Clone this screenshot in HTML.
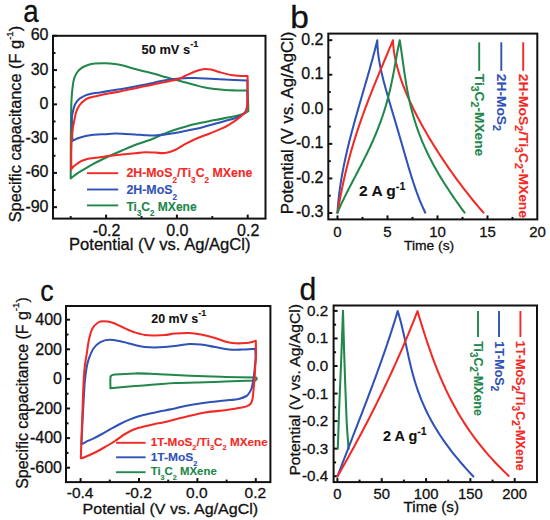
<!DOCTYPE html>
<html><head><meta charset="utf-8"><style>
html,body{margin:0;padding:0;background:#fff;width:550px;height:520px;overflow:hidden}
svg{display:block}
text{font-family:"Liberation Sans", sans-serif}
</style></head><body>
<svg width="550" height="520" viewBox="0 0 550 520" font-family='"Liberation Sans", sans-serif'>
<rect width="550" height="520" fill="#fff"/>
<rect x="53" y="35.8" width="212.5" height="182.8" fill="none" stroke="#111" stroke-width="2"/>
<line x1="106.1" y1="218.6" x2="106.1" y2="214.6" stroke="#111" stroke-width="2"/>
<line x1="176.9" y1="218.6" x2="176.9" y2="214.6" stroke="#111" stroke-width="2"/>
<line x1="247.7" y1="218.6" x2="247.7" y2="214.6" stroke="#111" stroke-width="2"/>
<line x1="70.7" y1="218.6" x2="70.7" y2="216.1" stroke="#111" stroke-width="2"/>
<line x1="141.5" y1="218.6" x2="141.5" y2="216.1" stroke="#111" stroke-width="2"/>
<line x1="212.3" y1="218.6" x2="212.3" y2="216.1" stroke="#111" stroke-width="2"/>
<line x1="53" y1="35.8" x2="57" y2="35.8" stroke="#111" stroke-width="2"/>
<line x1="53" y1="70.08" x2="57" y2="70.08" stroke="#111" stroke-width="2"/>
<line x1="53" y1="104.35" x2="57" y2="104.35" stroke="#111" stroke-width="2"/>
<line x1="53" y1="138.62" x2="57" y2="138.62" stroke="#111" stroke-width="2"/>
<line x1="53" y1="172.9" x2="57" y2="172.9" stroke="#111" stroke-width="2"/>
<line x1="53" y1="207.18" x2="57" y2="207.18" stroke="#111" stroke-width="2"/>
<line x1="53" y1="52.94" x2="55.5" y2="52.94" stroke="#111" stroke-width="2"/>
<line x1="53" y1="87.21" x2="55.5" y2="87.21" stroke="#111" stroke-width="2"/>
<line x1="53" y1="121.49" x2="55.5" y2="121.49" stroke="#111" stroke-width="2"/>
<line x1="53" y1="155.76" x2="55.5" y2="155.76" stroke="#111" stroke-width="2"/>
<line x1="53" y1="190.04" x2="55.5" y2="190.04" stroke="#111" stroke-width="2"/>
<text x="48.5" y="40.3" font-size="16" fill="#111" stroke="#111" stroke-width="0.3" text-anchor="end">60</text>
<text x="48.5" y="74.58" font-size="16" fill="#111" stroke="#111" stroke-width="0.3" text-anchor="end">30</text>
<text x="48.5" y="108.85" font-size="16" fill="#111" stroke="#111" stroke-width="0.3" text-anchor="end">0</text>
<text x="48.5" y="143.12" font-size="16" fill="#111" stroke="#111" stroke-width="0.3" text-anchor="end">-30</text>
<text x="48.5" y="177.4" font-size="16" fill="#111" stroke="#111" stroke-width="0.3" text-anchor="end">-60</text>
<text x="48.5" y="211.68" font-size="16" fill="#111" stroke="#111" stroke-width="0.3" text-anchor="end">-90</text>
<text x="106.6" y="235.8" font-size="16" fill="#111" stroke="#111" stroke-width="0.3" text-anchor="middle">-0.2</text>
<text x="177.4" y="235.8" font-size="16" fill="#111" stroke="#111" stroke-width="0.3" text-anchor="middle">0.0</text>
<text x="248.2" y="235.8" font-size="16" fill="#111" stroke="#111" stroke-width="0.3" text-anchor="middle">0.2</text>
<text x="69" y="249.5" font-size="16" fill="#111" stroke="#111" stroke-width="0.3" textLength="181.5" lengthAdjust="spacingAndGlyphs">Potential (V vs. Ag/AgCl)</text>
<text x="21.3" y="222.3" font-size="16" fill="#111" stroke="#111" stroke-width="0.3" textLength="196.5" lengthAdjust="spacingAndGlyphs" transform="rotate(-90 21.3 222.3)">Specific capacitance (F g<tspan dy="-8.5" font-size="9.5">-1</tspan><tspan dy="8.5">​</tspan>)</text>
<text x="23.2" y="21.8" font-size="32" fill="#111" stroke="#111" stroke-width="0.3" textLength="15.4" lengthAdjust="spacingAndGlyphs">a</text>
<text x="141.6" y="53.5" font-size="12.5" fill="#111" stroke="#111" stroke-width="0.1" font-weight="bold" textLength="56.8" lengthAdjust="spacingAndGlyphs">50 mV s<tspan dy="-6.3" font-size="9">-1</tspan><tspan dy="6.3">​</tspan></text>
<path d="M70.7,178.5 C70.72,173.75 70.75,159.75 70.8,150 C70.85,140.25 70.88,128.33 71,120 C71.12,111.67 71.25,105.33 71.5,100 C71.75,94.67 72.08,91.5 72.5,88 C72.92,84.5 73.25,81.58 74,79 C74.75,76.42 75.83,74.28 77,72.5 C78.17,70.72 79.17,69.55 81,68.3 C82.83,67.05 85.67,65.78 88,65 C90.33,64.22 92.17,63.9 95,63.6 C97.83,63.3 101.67,63.13 105,63.2 C108.33,63.27 111.67,63.53 115,64 C118.33,64.47 121.67,65.17 125,66 C128.33,66.83 131.67,68.08 135,69 C138.33,69.92 141.67,70.67 145,71.5 C148.33,72.33 151.67,73.08 155,74 C158.33,74.92 161.67,76.08 165,77 C168.33,77.92 171.67,78.62 175,79.5 C178.33,80.38 181.67,81.38 185,82.3 C188.33,83.22 191.67,84.13 195,85 C198.33,85.87 201.67,86.83 205,87.5 C208.33,88.17 211.67,88.58 215,89 C218.33,89.42 221.67,89.77 225,90 C228.33,90.23 231.3,90.3 235,90.4 C238.7,90.5 245.17,90.57 247.2,90.6 C247.33,92.17 247.82,96.57 248,100 C248.18,103.43 248.25,109.33 248.3,111.2 C247.58,111.63 245.55,113.12 244,113.8 C242.45,114.48 240.5,114.9 239,115.3 C237.5,115.7 236.83,115.82 235,116.2 C233.17,116.58 231.33,116.97 228,117.6 C224.67,118.23 220.5,118.93 215,120 C209.5,121.07 201.67,122.37 195,124 C188.33,125.63 180.23,128.13 175,129.8 C169.77,131.47 167.93,132.25 163.6,134 C159.27,135.75 153.77,138.47 149,140.3 C144.23,142.13 139.5,143.3 135,145 C130.5,146.7 126.17,148.7 122,150.5 C117.83,152.3 113.67,154.13 110,155.8 C106.33,157.47 103,159.03 100,160.5 C97,161.97 94.67,163.13 92,164.6 C89.33,166.07 86.5,167.78 84,169.3 C81.5,170.82 79.22,172.17 77,173.7 C74.78,175.23 71.75,177.7 70.7,178.5" fill="none" stroke="#21874b" stroke-width="2.05" stroke-linejoin="round" stroke-linecap="round"/>
<path d="M72.4,140.9 C72.33,138.25 72.07,129.07 72,125 C71.93,120.93 71.8,118.93 72,116.5 C72.2,114.07 72.68,112.45 73.2,110.4 C73.72,108.35 74.15,106.07 75.1,104.2 C76.05,102.33 77.58,100.47 78.9,99.2 C80.22,97.93 81.48,97.37 83,96.6 C84.52,95.83 86,95.2 88,94.6 C90,94 93,93.37 95,93 C97,92.63 97.5,92.77 100,92.4 C102.5,92.03 106.67,91.33 110,90.8 C113.33,90.27 116.67,89.75 120,89.2 C123.33,88.65 126.67,88.1 130,87.5 C133.33,86.9 136.67,86.27 140,85.6 C143.33,84.93 146.67,84.22 150,83.5 C153.33,82.78 156.67,81.95 160,81.3 C163.33,80.65 166.67,80.05 170,79.6 C173.33,79.15 177,78.85 180,78.6 C183,78.35 185.5,78.2 188,78.1 C190.5,78 192.17,77.95 195,78 C197.83,78.05 201.67,78.23 205,78.4 C208.33,78.57 211.67,78.8 215,79 C218.33,79.2 221.67,79.43 225,79.6 C228.33,79.77 231.27,79.87 235,80 C238.73,80.13 245.33,80.33 247.4,80.4 C247.42,82.83 247.53,90.9 247.5,95 C247.47,99.1 247.45,102.33 247.2,105 C246.95,107.67 246.2,110 246,111 C245.5,111.53 244.83,112.98 243,114.2 C241.17,115.42 238,117.17 235,118.3 C232,119.43 228.33,120.08 225,121 C221.67,121.92 218.33,122.88 215,123.8 C211.67,124.72 208.33,125.63 205,126.5 C201.67,127.37 198.33,128.25 195,129 C191.67,129.75 188.33,130.33 185,131 C181.67,131.67 178.33,132.42 175,133 C171.67,133.58 168.33,134.08 165,134.5 C161.67,134.92 158.33,135.38 155,135.5 C151.67,135.62 148.33,135.37 145,135.2 C141.67,135.03 138.33,134.7 135,134.5 C131.67,134.3 128.33,134.15 125,134 C121.67,133.85 118.33,133.57 115,133.6 C111.67,133.63 107.83,134.05 105,134.2 C102.17,134.35 100.5,134.32 98,134.5 C95.5,134.68 92.37,134.97 90,135.3 C87.63,135.63 85.8,136 83.8,136.5 C81.8,137 79.55,137.75 78,138.3 C76.45,138.85 75.43,139.37 74.5,139.8 C73.57,140.23 72.75,140.72 72.4,140.9" fill="none" stroke="#2f52b6" stroke-width="2.05" stroke-linejoin="round" stroke-linecap="round"/>
<path d="M71.3,169.3 C71.3,166.08 71.18,155.72 71.3,150 C71.42,144.28 71.75,138.53 72,135 C72.25,131.47 72.42,131.23 72.8,128.8 C73.18,126.37 73.73,123.22 74.3,120.4 C74.87,117.58 75.3,114.47 76.2,111.9 C77.1,109.33 78.22,107 79.7,105 C81.18,103 83.38,101.13 85.1,99.9 C86.82,98.67 87.52,98.38 90,97.6 C92.48,96.82 96.67,95.93 100,95.2 C103.33,94.47 106.67,93.83 110,93.2 C113.33,92.57 116.67,92.05 120,91.4 C123.33,90.75 126.67,90 130,89.3 C133.33,88.6 136.67,87.88 140,87.2 C143.33,86.52 146.67,85.9 150,85.2 C153.33,84.5 156.67,83.7 160,83 C163.33,82.3 167,81.63 170,81 C173,80.37 175.5,80.03 178,79.2 C180.5,78.37 182.17,77.28 185,76 C187.83,74.72 192,72.63 195,71.5 C198,70.37 200.33,69.52 203,69.2 C205.67,68.88 208.33,69.13 211,69.6 C213.67,70.07 215.67,71.1 219,72 C222.33,72.9 227,74.33 231,75 C235,75.67 240.23,75.83 243,76 C245.77,76.17 246.83,76 247.6,76 C247.6,79.17 247.67,89.67 247.6,95 C247.53,100.33 247.27,105.83 247.2,108 C246.97,108.6 246.5,110.5 245.8,111.6 C245.1,112.7 244.3,113.43 243,114.6 C241.7,115.77 239.67,117.33 238,118.6 C236.33,119.87 234.67,121.08 233,122.2 C231.33,123.32 229.83,124.27 228,125.3 C226.17,126.33 224.17,127.38 222,128.4 C219.83,129.42 217.83,130.25 215,131.4 C212.17,132.55 208.33,134 205,135.3 C201.67,136.6 198.33,137.72 195,139.2 C191.67,140.68 188.33,142.4 185,144.2 C181.67,146 178.33,148.53 175,150 C171.67,151.47 168.33,152.57 165,153 C161.67,153.43 158.33,152.72 155,152.6 C151.67,152.48 148.33,152.18 145,152.3 C141.67,152.42 138.83,152.92 135,153.3 C131.17,153.68 126.17,154.18 122,154.6 C117.83,155.02 113.67,155.37 110,155.8 C106.33,156.23 103.45,156.73 100,157.2 C96.55,157.67 92.3,158 89.3,158.6 C86.3,159.2 83.82,160.08 82,160.8 C80.18,161.52 79.65,162.07 78.4,162.9 C77.15,163.73 75.53,164.95 74.5,165.8 C73.47,166.65 72.73,167.42 72.2,168 C71.67,168.58 71.45,169.08 71.3,169.3" fill="none" stroke="#f22a26" stroke-width="2.05" stroke-linejoin="round" stroke-linecap="round"/>
<line x1="87" y1="173.2" x2="118.2" y2="173.2" stroke="#f22a26" stroke-width="1.9"/>
<line x1="87" y1="189.5" x2="118.2" y2="189.5" stroke="#2f52b6" stroke-width="1.9"/>
<line x1="87" y1="205.4" x2="118.2" y2="205.4" stroke="#21874b" stroke-width="1.9"/>
<text x="126.4" y="177.3" font-size="12.4" fill="#f22a26" stroke="#f22a26" stroke-width="0.1" font-weight="bold" textLength="126" lengthAdjust="spacingAndGlyphs">2H-MoS<tspan dy="5.4" font-size="8.2">2</tspan><tspan dy="-5.4">​</tspan>/Ti<tspan dy="5.4" font-size="8.2">3</tspan><tspan dy="-5.4">​</tspan>C<tspan dy="5.4" font-size="8.2">2</tspan><tspan dy="-5.4">​</tspan> MXene</text>
<text x="126.4" y="194.3" font-size="12.4" fill="#2f52b6" stroke="#2f52b6" stroke-width="0.1" font-weight="bold">2H-MoS<tspan dy="5.4" font-size="8.2">2</tspan><tspan dy="-5.4">​</tspan></text>
<text x="126.4" y="210.8" font-size="12.4" fill="#21874b" stroke="#21874b" stroke-width="0.1" font-weight="bold" textLength="70.3" lengthAdjust="spacingAndGlyphs">Ti<tspan dy="5.4" font-size="8.2">3</tspan><tspan dy="-5.4">​</tspan>C<tspan dy="5.4" font-size="8.2">2</tspan><tspan dy="-5.4">​</tspan> MXene</text>
<rect x="328.3" y="33.6" width="209" height="185.8" fill="none" stroke="#111" stroke-width="2"/>
<line x1="337.5" y1="219.4" x2="337.5" y2="215.4" stroke="#111" stroke-width="2"/>
<line x1="387.5" y1="219.4" x2="387.5" y2="215.4" stroke="#111" stroke-width="2"/>
<line x1="437.5" y1="219.4" x2="437.5" y2="215.4" stroke="#111" stroke-width="2"/>
<line x1="487.5" y1="219.4" x2="487.5" y2="215.4" stroke="#111" stroke-width="2"/>
<line x1="362.5" y1="219.4" x2="362.5" y2="216.9" stroke="#111" stroke-width="2"/>
<line x1="412.5" y1="219.4" x2="412.5" y2="216.9" stroke="#111" stroke-width="2"/>
<line x1="462.5" y1="219.4" x2="462.5" y2="216.9" stroke="#111" stroke-width="2"/>
<line x1="512.5" y1="219.4" x2="512.5" y2="216.9" stroke="#111" stroke-width="2"/>
<line x1="328.3" y1="40.18" x2="332.3" y2="40.18" stroke="#111" stroke-width="2"/>
<line x1="328.3" y1="74.74" x2="332.3" y2="74.74" stroke="#111" stroke-width="2"/>
<line x1="328.3" y1="109.3" x2="332.3" y2="109.3" stroke="#111" stroke-width="2"/>
<line x1="328.3" y1="143.86" x2="332.3" y2="143.86" stroke="#111" stroke-width="2"/>
<line x1="328.3" y1="178.42" x2="332.3" y2="178.42" stroke="#111" stroke-width="2"/>
<line x1="328.3" y1="212.98" x2="332.3" y2="212.98" stroke="#111" stroke-width="2"/>
<line x1="328.3" y1="57.46" x2="330.8" y2="57.46" stroke="#111" stroke-width="2"/>
<line x1="328.3" y1="92.02" x2="330.8" y2="92.02" stroke="#111" stroke-width="2"/>
<line x1="328.3" y1="126.58" x2="330.8" y2="126.58" stroke="#111" stroke-width="2"/>
<line x1="328.3" y1="161.14" x2="330.8" y2="161.14" stroke="#111" stroke-width="2"/>
<line x1="328.3" y1="195.7" x2="330.8" y2="195.7" stroke="#111" stroke-width="2"/>
<text x="323.5" y="44.68" font-size="16" fill="#111" stroke="#111" stroke-width="0.3" text-anchor="end">0.2</text>
<text x="323.5" y="79.24" font-size="16" fill="#111" stroke="#111" stroke-width="0.3" text-anchor="end">0.1</text>
<text x="323.5" y="113.8" font-size="16" fill="#111" stroke="#111" stroke-width="0.3" text-anchor="end">0.0</text>
<text x="323.5" y="148.36" font-size="16" fill="#111" stroke="#111" stroke-width="0.3" text-anchor="end">-0.1</text>
<text x="323.5" y="182.92" font-size="16" fill="#111" stroke="#111" stroke-width="0.3" text-anchor="end">-0.2</text>
<text x="323.5" y="217.48" font-size="16" fill="#111" stroke="#111" stroke-width="0.3" text-anchor="end">-0.3</text>
<text x="337.5" y="237" font-size="15" fill="#111" stroke="#111" stroke-width="0.3" text-anchor="middle">0</text>
<text x="387.5" y="237" font-size="15" fill="#111" stroke="#111" stroke-width="0.3" text-anchor="middle">5</text>
<text x="437.5" y="237" font-size="15" fill="#111" stroke="#111" stroke-width="0.3" text-anchor="middle">10</text>
<text x="487.5" y="237" font-size="15" fill="#111" stroke="#111" stroke-width="0.3" text-anchor="middle">15</text>
<text x="537.5" y="237" font-size="15" fill="#111" stroke="#111" stroke-width="0.3" text-anchor="middle">20</text>
<text x="404" y="249.5" font-size="13.6" fill="#111" stroke="#111" stroke-width="0.3" textLength="50.2" lengthAdjust="spacingAndGlyphs">Time (s)</text>
<text x="292.6" y="214.2" font-size="16" fill="#111" stroke="#111" stroke-width="0.3" textLength="182.5" lengthAdjust="spacingAndGlyphs" transform="rotate(-90 292.6 214.2)">Potential (V vs. Ag/AgCl)</text>
<text x="290.3" y="27.7" font-size="32" fill="#111" stroke="#111" stroke-width="0.3" textLength="18.6" lengthAdjust="spacingAndGlyphs">b</text>
<text x="359" y="195.5" font-size="14.5" fill="#111" stroke="#111" stroke-width="0.1" font-weight="bold" textLength="46.4" lengthAdjust="spacingAndGlyphs">2 A g<tspan dy="-5.6" font-size="10">-1</tspan><tspan dy="5.6">​</tspan></text>
<path d="M337.5,212.7 L337.68,209.78 L337.9,206.85 L338.14,203.93 L338.42,201.01 L338.72,198.08 L339.05,195.16 L339.41,192.23 L339.8,189.31 L340.21,186.39 L340.65,183.46 L341.11,180.54 L341.6,177.62 L342.11,174.69 L342.64,171.77 L343.2,168.84 L343.77,165.92 L344.37,163 L344.99,160.07 L345.62,157.15 L346.28,154.23 L346.95,151.3 L347.64,148.38 L348.35,145.45 L349.07,142.53 L349.8,139.61 L350.55,136.68 L351.31,133.76 L352.09,130.84 L352.87,127.91 L353.67,124.99 L354.47,122.06 L355.28,119.14 L356.11,116.22 L356.93,113.29 L357.77,110.37 L358.61,107.45 L359.45,104.52 L360.3,101.6 L361.15,98.67 L362,95.75 L362.86,92.83 L363.71,89.9 L364.56,86.98 L365.41,84.06 L366.26,81.13 L367.11,78.21 L367.95,75.28 L368.78,72.36 L369.61,69.44 L370.43,66.51 L371.24,63.59 L372.04,60.67 L372.83,57.74 L373.61,54.82 L374.38,51.89 L375.13,48.97 L375.87,46.05 L376.59,43.12 L377.3,40.2 L377.35,43.12 L377.48,46.05 L377.69,48.97 L377.97,51.89 L378.32,54.82 L378.72,57.74 L379.19,60.67 L379.71,63.59 L380.27,66.51 L380.88,69.44 L381.53,72.36 L382.21,75.28 L382.92,78.21 L383.66,81.13 L384.43,84.06 L385.22,86.98 L386.02,89.9 L386.84,92.83 L387.68,95.75 L388.52,98.67 L389.38,101.6 L390.24,104.52 L391.1,107.45 L391.97,110.37 L392.84,113.29 L393.71,116.22 L394.58,119.14 L395.45,122.06 L396.31,124.99 L397.17,127.91 L398.03,130.84 L398.88,133.76 L399.74,136.68 L400.59,139.61 L401.43,142.53 L402.27,145.45 L403.12,148.38 L403.96,151.3 L404.8,154.23 L405.65,157.15 L406.49,160.07 L407.35,163 L408.21,165.92 L409.08,168.84 L409.96,171.77 L410.86,174.69 L411.77,177.62 L412.71,180.54 L413.67,183.46 L414.65,186.39 L415.66,189.31 L416.71,192.23 L417.79,195.16 L418.91,198.08 L420.08,201.01 L421.3,203.93 L422.57,206.85 L423.9,209.78 L425.3,212.7" fill="none" stroke="#2f52b6" stroke-width="2.05" stroke-linejoin="round" stroke-linecap="round"/>
<path d="M337.5,212.7 L338,209.78 L338.51,206.85 L339.04,203.93 L339.57,201.01 L340.12,198.08 L340.69,195.16 L341.26,192.23 L341.86,189.31 L342.47,186.39 L343.09,183.46 L343.73,180.54 L344.39,177.62 L345.06,174.69 L345.76,171.77 L346.47,168.84 L347.19,165.92 L347.94,163 L348.71,160.07 L349.49,157.15 L350.29,154.23 L351.11,151.3 L351.95,148.38 L352.81,145.45 L353.68,142.53 L354.58,139.61 L355.49,136.68 L356.42,133.76 L357.37,130.84 L358.34,127.91 L359.32,124.99 L360.33,122.06 L361.35,119.14 L362.38,116.22 L363.43,113.29 L364.5,110.37 L365.58,107.45 L366.68,104.52 L367.79,101.6 L368.92,98.67 L370.05,95.75 L371.2,92.83 L372.36,89.9 L373.54,86.98 L374.72,84.06 L375.91,81.13 L377.11,78.21 L378.31,75.28 L379.53,72.36 L380.75,69.44 L381.97,66.51 L383.2,63.59 L384.43,60.67 L385.66,57.74 L386.89,54.82 L388.12,51.89 L389.34,48.97 L390.57,46.05 L391.79,43.12 L393,40.2 L393.07,43.12 L393.32,46.05 L393.65,48.97 L394.05,51.89 L394.52,54.82 L395.06,57.74 L395.67,60.67 L396.34,63.59 L397.08,66.51 L397.87,69.44 L398.72,72.36 L399.63,75.28 L400.59,78.21 L401.6,81.13 L402.66,84.06 L403.77,86.98 L404.92,89.9 L406.12,92.83 L407.36,95.75 L408.65,98.67 L409.97,101.6 L411.33,104.52 L412.73,107.45 L414.16,110.37 L415.63,113.29 L417.14,116.22 L418.68,119.14 L420.24,122.06 L421.84,124.99 L423.48,127.91 L425.14,130.84 L426.83,133.76 L428.54,136.68 L430.29,139.61 L432.07,142.53 L433.87,145.45 L435.7,148.38 L437.56,151.3 L439.44,154.23 L441.36,157.15 L443.3,160.07 L445.27,163 L447.26,165.92 L449.29,168.84 L451.34,171.77 L453.42,174.69 L455.53,177.62 L457.68,180.54 L459.85,183.46 L462.05,186.39 L464.29,189.31 L466.56,192.23 L468.87,195.16 L471.21,198.08 L473.59,201.01 L476.01,203.93 L478.46,206.85 L480.96,209.78 L483.5,212.7" fill="none" stroke="#f22a26" stroke-width="2.05" stroke-linejoin="round" stroke-linecap="round"/>
<path d="M337.5,212.7 L338.73,209.78 L340.01,206.85 L341.34,203.93 L342.72,201.01 L344.13,198.08 L345.57,195.16 L347.03,192.23 L348.52,189.31 L350.03,186.39 L351.55,183.46 L353.08,180.54 L354.61,177.62 L356.14,174.69 L357.67,171.77 L359.19,168.84 L360.7,165.92 L362.19,163 L363.68,160.07 L365.14,157.15 L366.58,154.23 L367.99,151.3 L369.38,148.38 L370.75,145.45 L372.08,142.53 L373.38,139.61 L374.65,136.68 L375.88,133.76 L377.08,130.84 L378.24,127.91 L379.36,124.99 L380.45,122.06 L381.5,119.14 L382.51,116.22 L383.49,113.29 L384.42,110.37 L385.32,107.45 L386.19,104.52 L387.01,101.6 L387.81,98.67 L388.57,95.75 L389.3,92.83 L390,89.9 L390.67,86.98 L391.31,84.06 L391.93,81.13 L392.53,78.21 L393.1,75.28 L393.66,72.36 L394.21,69.44 L394.75,66.51 L395.28,63.59 L395.8,60.67 L396.33,57.74 L396.85,54.82 L397.39,51.89 L397.94,48.97 L398.5,46.05 L399.09,43.12 L399.7,40.2 L400.18,43.12 L400.64,46.05 L401.08,48.97 L401.51,51.89 L401.92,54.82 L402.33,57.74 L402.74,60.67 L403.14,63.59 L403.55,66.51 L403.96,69.44 L404.39,72.36 L404.82,75.28 L405.27,78.21 L405.73,81.13 L406.21,84.06 L406.72,86.98 L407.24,89.9 L407.8,92.83 L408.38,95.75 L408.99,98.67 L409.63,101.6 L410.31,104.52 L411.02,107.45 L411.76,110.37 L412.55,113.29 L413.37,116.22 L414.23,119.14 L415.14,122.06 L416.08,124.99 L417.07,127.91 L418.11,130.84 L419.18,133.76 L420.31,136.68 L421.48,139.61 L422.69,142.53 L423.95,145.45 L425.26,148.38 L426.61,151.3 L428.01,154.23 L429.45,157.15 L430.94,160.07 L432.48,163 L434.06,165.92 L435.68,168.84 L437.35,171.77 L439.06,174.69 L440.81,177.62 L442.61,180.54 L444.44,183.46 L446.31,186.39 L448.22,189.31 L450.16,192.23 L452.14,195.16 L454.14,198.08 L456.18,201.01 L458.25,203.93 L460.34,206.85 L462.46,209.78 L464.6,212.7" fill="none" stroke="#21874b" stroke-width="2.05" stroke-linejoin="round" stroke-linecap="round"/>
<line x1="479.2" y1="42.3" x2="479.2" y2="70.8" stroke="#21874b" stroke-width="1.9"/>
<line x1="501.3" y1="42.3" x2="501.3" y2="70.8" stroke="#2f52b6" stroke-width="1.9"/>
<line x1="523.2" y1="42.3" x2="523.2" y2="70.8" stroke="#f22a26" stroke-width="1.9"/>
<text x="518.8" y="73.8" font-size="13.6" fill="#f22a26" stroke="#f22a26" stroke-width="0.1" font-weight="bold" textLength="144.2" lengthAdjust="spacingAndGlyphs" transform="rotate(90 518.8 73.8)">2H-MoS<tspan dy="3.8" font-size="10.5">2</tspan><tspan dy="-3.8">​</tspan>/Ti<tspan dy="3.8" font-size="10.5">3</tspan><tspan dy="-3.8">​</tspan>C<tspan dy="3.8" font-size="10.5">2</tspan><tspan dy="-3.8">​</tspan>-MXene</text>
<text x="497.2" y="73.8" font-size="13.6" fill="#2f52b6" stroke="#2f52b6" stroke-width="0.1" font-weight="bold" textLength="57.2" lengthAdjust="spacingAndGlyphs" transform="rotate(90 497.2 73.8)">2H-MoS<tspan dy="3.8" font-size="10.5">2</tspan><tspan dy="-3.8">​</tspan></text>
<text x="474.8" y="73.8" font-size="13.6" fill="#21874b" stroke="#21874b" stroke-width="0.1" font-weight="bold" textLength="82.4" lengthAdjust="spacingAndGlyphs" transform="rotate(90 474.8 73.8)">Ti<tspan dy="3.8" font-size="10.5">3</tspan><tspan dy="-3.8">​</tspan>C<tspan dy="3.8" font-size="10.5">2</tspan><tspan dy="-3.8">​</tspan>-MXene</text>
<rect x="66" y="306" width="204.4" height="176.1" fill="none" stroke="#111" stroke-width="2"/>
<line x1="80.6" y1="482.1" x2="80.6" y2="478.1" stroke="#111" stroke-width="2"/>
<line x1="139" y1="482.1" x2="139" y2="478.1" stroke="#111" stroke-width="2"/>
<line x1="197.4" y1="482.1" x2="197.4" y2="478.1" stroke="#111" stroke-width="2"/>
<line x1="255.8" y1="482.1" x2="255.8" y2="478.1" stroke="#111" stroke-width="2"/>
<line x1="109.8" y1="482.1" x2="109.8" y2="479.6" stroke="#111" stroke-width="2"/>
<line x1="168.2" y1="482.1" x2="168.2" y2="479.6" stroke="#111" stroke-width="2"/>
<line x1="226.6" y1="482.1" x2="226.6" y2="479.6" stroke="#111" stroke-width="2"/>
<line x1="66" y1="319.7" x2="70" y2="319.7" stroke="#111" stroke-width="2"/>
<line x1="66" y1="349.3" x2="70" y2="349.3" stroke="#111" stroke-width="2"/>
<line x1="66" y1="378.9" x2="70" y2="378.9" stroke="#111" stroke-width="2"/>
<line x1="66" y1="408.5" x2="70" y2="408.5" stroke="#111" stroke-width="2"/>
<line x1="66" y1="438.1" x2="70" y2="438.1" stroke="#111" stroke-width="2"/>
<line x1="66" y1="467.7" x2="70" y2="467.7" stroke="#111" stroke-width="2"/>
<line x1="66" y1="334.5" x2="68.5" y2="334.5" stroke="#111" stroke-width="2"/>
<line x1="66" y1="364.1" x2="68.5" y2="364.1" stroke="#111" stroke-width="2"/>
<line x1="66" y1="393.7" x2="68.5" y2="393.7" stroke="#111" stroke-width="2"/>
<line x1="66" y1="423.3" x2="68.5" y2="423.3" stroke="#111" stroke-width="2"/>
<line x1="66" y1="452.9" x2="68.5" y2="452.9" stroke="#111" stroke-width="2"/>
<text x="62" y="325" font-size="16" fill="#111" stroke="#111" stroke-width="0.3" text-anchor="end">400</text>
<text x="62" y="354.6" font-size="16" fill="#111" stroke="#111" stroke-width="0.3" text-anchor="end">200</text>
<text x="62" y="384.2" font-size="16" fill="#111" stroke="#111" stroke-width="0.3" text-anchor="end">0</text>
<text x="62" y="413.8" font-size="16" fill="#111" stroke="#111" stroke-width="0.3" text-anchor="end">-200</text>
<text x="62" y="443.4" font-size="16" fill="#111" stroke="#111" stroke-width="0.3" text-anchor="end">-400</text>
<text x="62" y="473" font-size="16" fill="#111" stroke="#111" stroke-width="0.3" text-anchor="end">-600</text>
<text x="80.1" y="498.2" font-size="15.5" fill="#111" stroke="#111" stroke-width="0.3" text-anchor="middle">-0.4</text>
<text x="138.5" y="498.2" font-size="15.5" fill="#111" stroke="#111" stroke-width="0.3" text-anchor="middle">-0.2</text>
<text x="196.9" y="498.2" font-size="15.5" fill="#111" stroke="#111" stroke-width="0.3" text-anchor="middle">0.0</text>
<text x="255.3" y="498.2" font-size="15.5" fill="#111" stroke="#111" stroke-width="0.3" text-anchor="middle">0.2</text>
<text x="82.6" y="513.6" font-size="15.5" fill="#111" stroke="#111" stroke-width="0.3" textLength="175.6" lengthAdjust="spacingAndGlyphs">Potential (V vs. Ag/AgCl)</text>
<text x="28" y="488.8" font-size="15.7" fill="#111" stroke="#111" stroke-width="0.3" textLength="191.5" lengthAdjust="spacingAndGlyphs" transform="rotate(-90 28 488.8)">Specific capacitance (F g<tspan dy="-9" font-size="9.5">-1</tspan><tspan dy="9">​</tspan>)</text>
<text x="40.3" y="300.9" font-size="29.5" fill="#111" stroke="#111" stroke-width="0.3" textLength="13.4" lengthAdjust="spacingAndGlyphs">c</text>
<text x="151.3" y="322.7" font-size="12.3" fill="#111" stroke="#111" stroke-width="0.1" font-weight="bold" textLength="55" lengthAdjust="spacingAndGlyphs">20 mV s<tspan dy="-6.3" font-size="9">-1</tspan><tspan dy="6.3">​</tspan></text>
<path d="M110.5,377 C110.58,376.83 110.25,376.4 111,376 C111.75,375.6 111,375.03 115,374.6 C119,374.17 128.33,373.5 135,373.4 C141.67,373.3 148.33,373.73 155,374 C161.67,374.27 166.67,374.62 175,375 C183.33,375.38 196.67,375.98 205,376.3 C213.33,376.62 216.45,376.68 225,376.9 C233.55,377.12 251.08,377.48 256.3,377.6 C256.37,377.82 256.83,378.43 256.7,378.9 C256.57,379.37 255.7,380.15 255.5,380.4 C250.42,380.6 233.42,381.3 225,381.6 C216.58,381.9 213.33,381.97 205,382.2 C196.67,382.43 183.33,382.6 175,383 C166.67,383.4 161.67,384.1 155,384.6 C148.33,385.1 142,385.43 135,386 C128,386.57 117.08,387.67 113,388 C108.92,388.33 110.92,388 110.5,388 C110.47,387 110.3,383.83 110.3,382 C110.3,380.17 110.47,377.83 110.5,377" fill="none" stroke="#21874b" stroke-width="2.05" stroke-linejoin="round" stroke-linecap="round"/>
<path d="M81.4,444.5 C81.67,439 82.5,421.08 83,411.5 C83.5,401.92 84,392.92 84.4,387 C84.8,381.08 85,379.42 85.4,376 C85.8,372.58 86.23,369.37 86.8,366.5 C87.37,363.63 87.68,361.8 88.8,358.8 C89.92,355.8 91.57,351.28 93.5,348.5 C95.43,345.72 97.72,343.55 100.4,342.1 C103.08,340.65 106.13,339.9 109.6,339.8 C113.07,339.7 118.13,340.93 121.2,341.5 C124.27,342.07 125.7,342.62 128,343.2 C130.3,343.78 132.17,344.37 135,345 C137.83,345.63 141.67,346.6 145,347 C148.33,347.4 151.67,347.4 155,347.4 C158.33,347.4 161.67,347.23 165,347 C168.33,346.77 171,346.5 175,346 C179,345.5 184.67,344.23 189,344 C193.33,343.77 196.67,344.1 201,344.6 C205.33,345.1 210.33,346.2 215,347 C219.67,347.8 224.67,348.97 229,349.4 C233.33,349.83 236.62,349.72 241,349.6 C245.38,349.48 252.92,348.85 255.3,348.7 C255.35,350.25 255.65,355.12 255.6,358 C255.55,360.88 255.27,363.17 255,366 C254.73,368.83 254.37,372.17 254,375 C253.63,377.83 253.22,380.75 252.8,383 C252.38,385.25 252.05,386.92 251.5,388.5 C250.95,390.08 250.33,391.25 249.5,392.5 C248.67,393.75 248.28,394.93 246.5,396 C244.72,397.07 242.38,398.13 238.8,398.9 C235.22,399.67 230.63,399.95 225,400.6 C219.37,401.25 211.67,401.9 205,402.8 C198.33,403.7 190,405.07 185,406 C180,406.93 178.33,407.67 175,408.4 C171.67,409.13 168.33,409.72 165,410.4 C161.67,411.08 157.88,411.88 155,412.5 C152.12,413.12 150.53,413.42 147.7,414.1 C144.87,414.78 141.03,415.68 138,416.6 C134.97,417.52 132.5,418.37 129.5,419.6 C126.5,420.83 123.02,422.5 120,424 C116.98,425.5 114.4,426.93 111.4,428.6 C108.4,430.27 105.03,432.33 102,434 C98.97,435.67 95.87,437.3 93.2,438.6 C90.53,439.9 87.97,440.82 86,441.8 C84.03,442.78 82.17,444.05 81.4,444.5" fill="none" stroke="#2f52b6" stroke-width="2.05" stroke-linejoin="round" stroke-linecap="round"/>
<path d="M80.8,458.3 C80.95,454.08 81.37,442.38 81.7,433 C82.03,423.62 82.47,410.83 82.8,402 C83.13,393.17 83.37,386 83.7,380 C84.03,374 84.33,370.1 84.8,366 C85.27,361.9 85.83,359.67 86.5,355.4 C87.17,351.13 87.83,344.83 88.8,340.4 C89.77,335.97 90.75,331.78 92.3,328.8 C93.85,325.82 96.18,323.75 98.1,322.5 C100.02,321.25 101.5,321.3 103.8,321.3 C106.1,321.3 109,321.63 111.9,322.5 C114.8,323.37 118.52,325.28 121.2,326.5 C123.88,327.72 125.7,328.82 128,329.8 C130.3,330.78 132.17,331.53 135,332.4 C137.83,333.27 141.67,334.5 145,335 C148.33,335.5 151.67,335.4 155,335.4 C158.33,335.4 161.67,335.3 165,335 C168.33,334.7 171,333.93 175,333.6 C179,333.27 184.67,332.83 189,333 C193.33,333.17 196.67,333.77 201,334.6 C205.33,335.43 211,336.85 215,338 C219,339.15 221.6,340.62 225,341.5 C228.4,342.38 231.93,343.05 235.4,343.3 C238.87,343.55 242.92,343.25 245.8,343 C248.68,342.75 251.03,342.18 252.7,341.8 C254.37,341.42 255.28,340.88 255.8,340.7 C255.83,343.25 256.08,351.95 256,356 C255.92,360.05 255.53,361.33 255.3,365 C255.07,368.67 254.9,373.83 254.6,378 C254.3,382.17 253.83,386.58 253.5,390 C253.17,393.42 253.05,396.23 252.6,398.5 C252.15,400.77 251.82,402.28 250.8,403.6 C249.78,404.92 248.3,405.7 246.5,406.4 C244.7,407.1 241.85,407.42 240,407.8 C238.15,408.18 237.9,408.3 235.4,408.7 C232.9,409.1 230.07,409.57 225,410.2 C219.93,410.83 211.67,411.37 205,412.5 C198.33,413.63 191.67,415.42 185,417 C178.33,418.58 170,420.83 165,422 C160,423.17 158.33,423.28 155,424 C151.67,424.72 148.33,425.47 145,426.3 C141.67,427.13 138.33,427.72 135,429 C131.67,430.28 128.33,432 125,434 C121.67,436 118.33,438.83 115,441 C111.67,443.17 108.33,445.08 105,447 C101.67,448.92 98.33,450.83 95,452.5 C91.67,454.17 87.37,456.03 85,457 C82.63,457.97 81.5,458.08 80.8,458.3" fill="none" stroke="#f22a26" stroke-width="2.05" stroke-linejoin="round" stroke-linecap="round"/>
<line x1="116.1" y1="442.8" x2="145.6" y2="442.8" stroke="#f22a26" stroke-width="1.9"/>
<line x1="116.1" y1="457.3" x2="145.6" y2="457.3" stroke="#2f52b6" stroke-width="1.9"/>
<line x1="116.1" y1="472.2" x2="145.6" y2="472.2" stroke="#21874b" stroke-width="1.9"/>
<text x="150.7" y="446" font-size="11.4" fill="#f22a26" stroke="#f22a26" stroke-width="0.1" font-weight="bold" textLength="117" lengthAdjust="spacingAndGlyphs">1T-MoS<tspan dy="4.3" font-size="7.2">2</tspan><tspan dy="-4.3">​</tspan>/Ti<tspan dy="4.3" font-size="7.2">3</tspan><tspan dy="-4.3">​</tspan>C<tspan dy="4.3" font-size="7.2">2</tspan><tspan dy="-4.3">​</tspan> MXene</text>
<text x="150.7" y="460.6" font-size="11.4" fill="#2f52b6" stroke="#2f52b6" stroke-width="0.1" font-weight="bold" textLength="46.8" lengthAdjust="spacingAndGlyphs">1T-MoS<tspan dy="5.8" font-size="7.2">2</tspan><tspan dy="-5.8">​</tspan></text>
<text x="150.7" y="474.6" font-size="11.4" fill="#21874b" stroke="#21874b" stroke-width="0.1" font-weight="bold">Ti<tspan dy="5.8" font-size="7.2">3</tspan><tspan dy="-5.8">​</tspan>C<tspan dy="5.8" font-size="7.2">2</tspan><tspan dy="-5.8">​</tspan> MXene</text>
<rect x="333.6" y="305.5" width="203.4" height="176.6" fill="none" stroke="#111" stroke-width="2"/>
<line x1="337.4" y1="482.1" x2="337.4" y2="478.1" stroke="#111" stroke-width="2"/>
<line x1="381.72" y1="482.1" x2="381.72" y2="478.1" stroke="#111" stroke-width="2"/>
<line x1="426.05" y1="482.1" x2="426.05" y2="478.1" stroke="#111" stroke-width="2"/>
<line x1="470.38" y1="482.1" x2="470.38" y2="478.1" stroke="#111" stroke-width="2"/>
<line x1="514.7" y1="482.1" x2="514.7" y2="478.1" stroke="#111" stroke-width="2"/>
<line x1="359.56" y1="482.1" x2="359.56" y2="479.6" stroke="#111" stroke-width="2"/>
<line x1="403.89" y1="482.1" x2="403.89" y2="479.6" stroke="#111" stroke-width="2"/>
<line x1="448.21" y1="482.1" x2="448.21" y2="479.6" stroke="#111" stroke-width="2"/>
<line x1="492.54" y1="482.1" x2="492.54" y2="479.6" stroke="#111" stroke-width="2"/>
<line x1="333.6" y1="310.9" x2="337.6" y2="310.9" stroke="#111" stroke-width="2"/>
<line x1="333.6" y1="338.45" x2="337.6" y2="338.45" stroke="#111" stroke-width="2"/>
<line x1="333.6" y1="366" x2="337.6" y2="366" stroke="#111" stroke-width="2"/>
<line x1="333.6" y1="393.55" x2="337.6" y2="393.55" stroke="#111" stroke-width="2"/>
<line x1="333.6" y1="421.1" x2="337.6" y2="421.1" stroke="#111" stroke-width="2"/>
<line x1="333.6" y1="448.65" x2="337.6" y2="448.65" stroke="#111" stroke-width="2"/>
<line x1="333.6" y1="476.2" x2="337.6" y2="476.2" stroke="#111" stroke-width="2"/>
<line x1="333.6" y1="324.68" x2="336.1" y2="324.68" stroke="#111" stroke-width="2"/>
<line x1="333.6" y1="352.23" x2="336.1" y2="352.23" stroke="#111" stroke-width="2"/>
<line x1="333.6" y1="379.77" x2="336.1" y2="379.77" stroke="#111" stroke-width="2"/>
<line x1="333.6" y1="407.32" x2="336.1" y2="407.32" stroke="#111" stroke-width="2"/>
<line x1="333.6" y1="434.88" x2="336.1" y2="434.88" stroke="#111" stroke-width="2"/>
<line x1="333.6" y1="462.43" x2="336.1" y2="462.43" stroke="#111" stroke-width="2"/>
<text x="328.2" y="315.9" font-size="15.2" fill="#111" stroke="#111" stroke-width="0.3" text-anchor="end">0.2</text>
<text x="328.2" y="343.45" font-size="15.2" fill="#111" stroke="#111" stroke-width="0.3" text-anchor="end">0.1</text>
<text x="328.2" y="371" font-size="15.2" fill="#111" stroke="#111" stroke-width="0.3" text-anchor="end">0.0</text>
<text x="328.2" y="398.55" font-size="15.2" fill="#111" stroke="#111" stroke-width="0.3" text-anchor="end">-0.1</text>
<text x="328.2" y="426.1" font-size="15.2" fill="#111" stroke="#111" stroke-width="0.3" text-anchor="end">-0.2</text>
<text x="328.2" y="453.65" font-size="15.2" fill="#111" stroke="#111" stroke-width="0.3" text-anchor="end">-0.3</text>
<text x="328.2" y="481.2" font-size="15.2" fill="#111" stroke="#111" stroke-width="0.3" text-anchor="end">-0.4</text>
<text x="337.4" y="498.5" font-size="14.8" fill="#111" stroke="#111" stroke-width="0.3" text-anchor="middle">0</text>
<text x="381.72" y="498.5" font-size="14.8" fill="#111" stroke="#111" stroke-width="0.3" text-anchor="middle">50</text>
<text x="426.05" y="498.5" font-size="14.8" fill="#111" stroke="#111" stroke-width="0.3" text-anchor="middle">100</text>
<text x="470.38" y="498.5" font-size="14.8" fill="#111" stroke="#111" stroke-width="0.3" text-anchor="middle">150</text>
<text x="514.7" y="498.5" font-size="14.8" fill="#111" stroke="#111" stroke-width="0.3" text-anchor="middle">200</text>
<text x="403.6" y="511.6" font-size="15" fill="#111" stroke="#111" stroke-width="0.3" textLength="55.4" lengthAdjust="spacingAndGlyphs">Time (s)</text>
<text x="300.3" y="475.6" font-size="15.4" fill="#111" stroke="#111" stroke-width="0.3" textLength="171.5" lengthAdjust="spacingAndGlyphs" transform="rotate(-90 300.3 475.6)">Potential (V vs. Ag/AgCl)</text>
<text x="299.5" y="300" font-size="31" fill="#111" stroke="#111" stroke-width="0.3" textLength="16.8" lengthAdjust="spacingAndGlyphs">d</text>
<text x="383" y="440.5" font-size="13.8" fill="#111" stroke="#111" stroke-width="0.1" font-weight="bold" textLength="43.6" lengthAdjust="spacingAndGlyphs">2 A g<tspan dy="-5.8" font-size="10">-1</tspan><tspan dy="5.8">​</tspan></text>
<path d="M337.8,448.8 C338.08,440.67 338.93,414.8 339.5,400 C340.07,385.2 340.62,374.87 341.2,360 C341.78,345.13 342.7,319 343,310.8 C343.23,319 343.8,341.8 344.4,360 C345,378.2 345.9,405.17 346.6,420 C347.3,434.83 348.27,444.17 348.6,449" fill="none" stroke="#21874b" stroke-width="2.05" stroke-linejoin="round" stroke-linecap="round"/>
<path d="M337.4,476.5 L338.47,473.7 L339.54,470.89 L340.62,468.09 L341.7,465.29 L342.78,462.48 L343.86,459.68 L344.94,456.88 L346.03,454.07 L347.12,451.27 L348.2,448.47 L349.29,445.66 L350.38,442.86 L351.47,440.06 L352.56,437.25 L353.65,434.45 L354.74,431.65 L355.83,428.84 L356.92,426.04 L358.01,423.24 L359.09,420.43 L360.18,417.63 L361.26,414.83 L362.34,412.02 L363.42,409.22 L364.49,406.42 L365.57,403.61 L366.63,400.81 L367.7,398.01 L368.76,395.2 L369.82,392.4 L370.87,389.59 L371.92,386.79 L372.97,383.99 L374.01,381.18 L375.04,378.38 L376.07,375.58 L377.1,372.77 L378.12,369.97 L379.13,367.17 L380.13,364.36 L381.13,361.56 L382.13,358.76 L383.11,355.95 L384.09,353.15 L385.06,350.35 L386.02,347.54 L386.98,344.74 L387.92,341.94 L388.86,339.13 L389.79,336.33 L390.71,333.53 L391.62,330.72 L392.52,327.92 L393.41,325.12 L394.29,322.31 L395.16,319.51 L396.01,316.71 L396.86,313.9 L397.7,311.1 L398.57,313.9 L399.39,316.71 L400.16,319.51 L400.9,322.31 L401.61,325.12 L402.29,327.92 L402.94,330.72 L403.58,333.53 L404.19,336.33 L404.8,339.13 L405.4,341.94 L405.99,344.74 L406.58,347.54 L407.18,350.35 L407.78,353.15 L408.39,355.95 L409.01,358.76 L409.65,361.56 L410.31,364.36 L411,367.17 L411.7,369.97 L412.44,372.77 L413.2,375.58 L414,378.38 L414.83,381.18 L415.7,383.99 L416.6,386.79 L417.55,389.59 L418.55,392.4 L419.58,395.2 L420.67,398.01 L421.8,400.81 L422.98,403.61 L424.21,406.42 L425.5,409.22 L426.84,412.02 L428.23,414.83 L429.68,417.63 L431.19,420.43 L432.75,423.24 L434.37,426.04 L436.05,428.84 L437.78,431.65 L439.58,434.45 L441.43,437.25 L443.34,440.06 L445.32,442.86 L447.35,445.66 L449.44,448.47 L451.58,451.27 L453.79,454.07 L456.05,456.88 L458.37,459.68 L460.74,462.48 L463.17,465.29 L465.65,468.09 L468.18,470.89 L470.77,473.7 L473.4,476.5" fill="none" stroke="#2f52b6" stroke-width="2.05" stroke-linejoin="round" stroke-linecap="round"/>
<path d="M337.4,476.5 L339,473.7 L340.6,470.89 L342.19,468.09 L343.77,465.29 L345.35,462.48 L346.91,459.68 L348.47,456.88 L350.02,454.07 L351.56,451.27 L353.1,448.47 L354.62,445.66 L356.14,442.86 L357.65,440.06 L359.16,437.25 L360.65,434.45 L362.14,431.65 L363.62,428.84 L365.09,426.04 L366.55,423.24 L368,420.43 L369.44,417.63 L370.88,414.83 L372.31,412.02 L373.73,409.22 L375.13,406.42 L376.54,403.61 L377.93,400.81 L379.31,398.01 L380.69,395.2 L382.05,392.4 L383.41,389.59 L384.75,386.79 L386.09,383.99 L387.42,381.18 L388.74,378.38 L390.05,375.58 L391.35,372.77 L392.64,369.97 L393.93,367.17 L395.2,364.36 L396.46,361.56 L397.72,358.76 L398.96,355.95 L400.19,353.15 L401.42,350.35 L402.63,347.54 L403.84,344.74 L405.03,341.94 L406.22,339.13 L407.39,336.33 L408.55,333.53 L409.71,330.72 L410.85,327.92 L411.99,325.12 L413.11,322.31 L414.22,319.51 L415.33,316.71 L416.42,313.9 L417.5,311.1 L418.33,313.89 L419.17,316.69 L420.02,319.48 L420.87,322.27 L421.73,325.07 L422.6,327.86 L423.48,330.65 L424.37,333.45 L425.27,336.24 L426.18,339.03 L427.11,341.83 L428.04,344.62 L429,347.41 L429.97,350.21 L430.95,353 L431.95,355.79 L432.98,358.58 L434.02,361.38 L435.08,364.17 L436.16,366.96 L437.27,369.76 L438.4,372.55 L439.56,375.34 L440.74,378.14 L441.95,380.93 L443.19,383.72 L444.46,386.52 L445.76,389.31 L447.09,392.1 L448.45,394.9 L449.85,397.69 L451.28,400.48 L452.76,403.28 L454.27,406.07 L455.82,408.86 L457.41,411.66 L459.04,414.45 L460.72,417.24 L462.44,420.04 L464.21,422.83 L466.03,425.62 L467.9,428.42 L469.82,431.21 L471.79,434 L473.81,436.79 L475.89,439.59 L478.03,442.38 L480.23,445.17 L482.48,447.97 L484.8,450.76 L487.18,453.55 L489.63,456.35 L492.14,459.14 L494.72,461.93 L497.37,464.73 L500.09,467.52 L502.88,470.31 L505.75,473.11 L508.7,475.9" fill="none" stroke="#f22a26" stroke-width="2.05" stroke-linejoin="round" stroke-linecap="round"/>
<line x1="478" y1="311" x2="478" y2="337" stroke="#21874b" stroke-width="1.9"/>
<line x1="499" y1="311" x2="499" y2="337" stroke="#2f52b6" stroke-width="1.9"/>
<line x1="520.4" y1="311" x2="520.4" y2="337" stroke="#f22a26" stroke-width="1.9"/>
<text x="515.7" y="340.7" font-size="12.6" fill="#f22a26" stroke="#f22a26" stroke-width="0.1" font-weight="bold" textLength="130" lengthAdjust="spacingAndGlyphs" transform="rotate(90 515.7 340.7)">1T-MoS<tspan dy="3.6" font-size="10">2</tspan><tspan dy="-3.6">​</tspan>/Ti<tspan dy="3.6" font-size="10">3</tspan><tspan dy="-3.6">​</tspan>C<tspan dy="3.6" font-size="10">2</tspan><tspan dy="-3.6">​</tspan>-MXene</text>
<text x="494.5" y="341.2" font-size="12.6" fill="#2f52b6" stroke="#2f52b6" stroke-width="0.1" font-weight="bold" textLength="50" lengthAdjust="spacingAndGlyphs" transform="rotate(90 494.5 341.2)">1T-MoS<tspan dy="3.6" font-size="10">2</tspan><tspan dy="-3.6">​</tspan></text>
<text x="473.9" y="341.3" font-size="12.6" fill="#21874b" stroke="#21874b" stroke-width="0.1" font-weight="bold" textLength="74.5" lengthAdjust="spacingAndGlyphs" transform="rotate(90 473.9 341.3)">Ti<tspan dy="3.6" font-size="10">3</tspan><tspan dy="-3.6">​</tspan>C<tspan dy="3.6" font-size="10">2</tspan><tspan dy="-3.6">​</tspan>-MXene</text>
</svg>
</body></html>
